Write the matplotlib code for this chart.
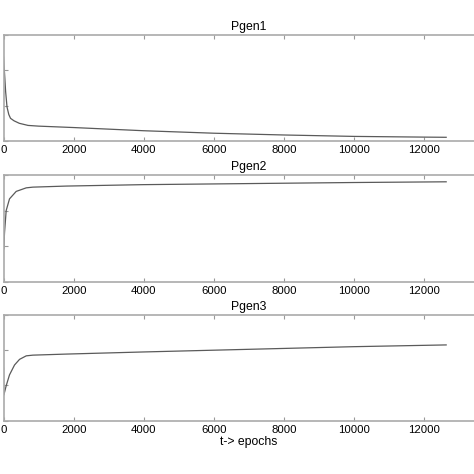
import matplotlib
matplotlib.use("Agg")
import matplotlib.pyplot as plt

plt.rcParams['font.family'] = ['Liberation Sans', 'DejaVu Sans']

# epochs / values (y units arbitrary, labels cut off)
t1 = [0, 15, 30, 60, 100, 150, 200, 300, 450, 700, 1000, 2000, 4000, 6000, 8000, 10000, 12000, 12620]
pgen1 = [2.37, 2.1, 1.9, 1.4, 0.96, 0.75, 0.64, 0.57, 0.50, 0.44, 0.42, 0.38, 0.29, 0.22, 0.17, 0.13, 0.11, 0.105]

t2 = [0, 3, 8, 29, 76, 171, 362, 648, 838, 1790, 3980, 7980, 9980, 12620]
pgen2 = [1.24, 0.91, 0.95, 1.38, 2.0, 2.33, 2.54, 2.64, 2.66, 2.69, 2.73, 2.77, 2.79, 2.81]

t3 = [0, 3, 10, 76, 171, 314, 457, 648, 838, 1790, 3980, 7980, 9980, 12620]
pgen3 = [1.49, 0.9, 0.73, 0.99, 1.30, 1.58, 1.74, 1.84, 1.86, 1.89, 1.95, 2.05, 2.10, 2.15]

titles = ["Pgen1", "Pgen2", "Pgen3"]
xticks = [0, 2000, 4000, 6000, 8000, 10000, 12000]

fig = plt.figure(figsize=(4.74, 4.74), dpi=100)
boxes = [[0.0074, 0.7025, 1.036, 0.2243],
         [0.0074, 0.4057, 1.036, 0.2250],
         [0.0074, 0.1125, 1.036, 0.2230]]

for box, t, y, ttl in zip(boxes, [t1, t2, t3], [pgen1, pgen2, pgen3], titles):
    ax = fig.add_axes(box)
    ax.plot(t, y, color='#5a5a5a', lw=0.9)
    ax.set_xlim(0, 14000)
    ax.set_ylim(0, 3)
    ax.set_xticks(xticks)
    ax.set_yticks([0, 1, 2, 3])
    ax.set_yticklabels(['', '', '', ''])
    ax.tick_params(direction='in', top=True, right=True, length=3, width=0.8,
                   color='#999999', labelsize=8.2, pad=3)
    for s in ax.spines.values():
        s.set_color('#aaaaaa')
        s.set_linewidth(1.2)
    ax.set_title(ttl, fontsize=8.8, pad=3.5)

ax.set_xlabel("t-> epochs", fontsize=8.8, labelpad=0.5)

fig.savefig("out.png", dpi=100)
